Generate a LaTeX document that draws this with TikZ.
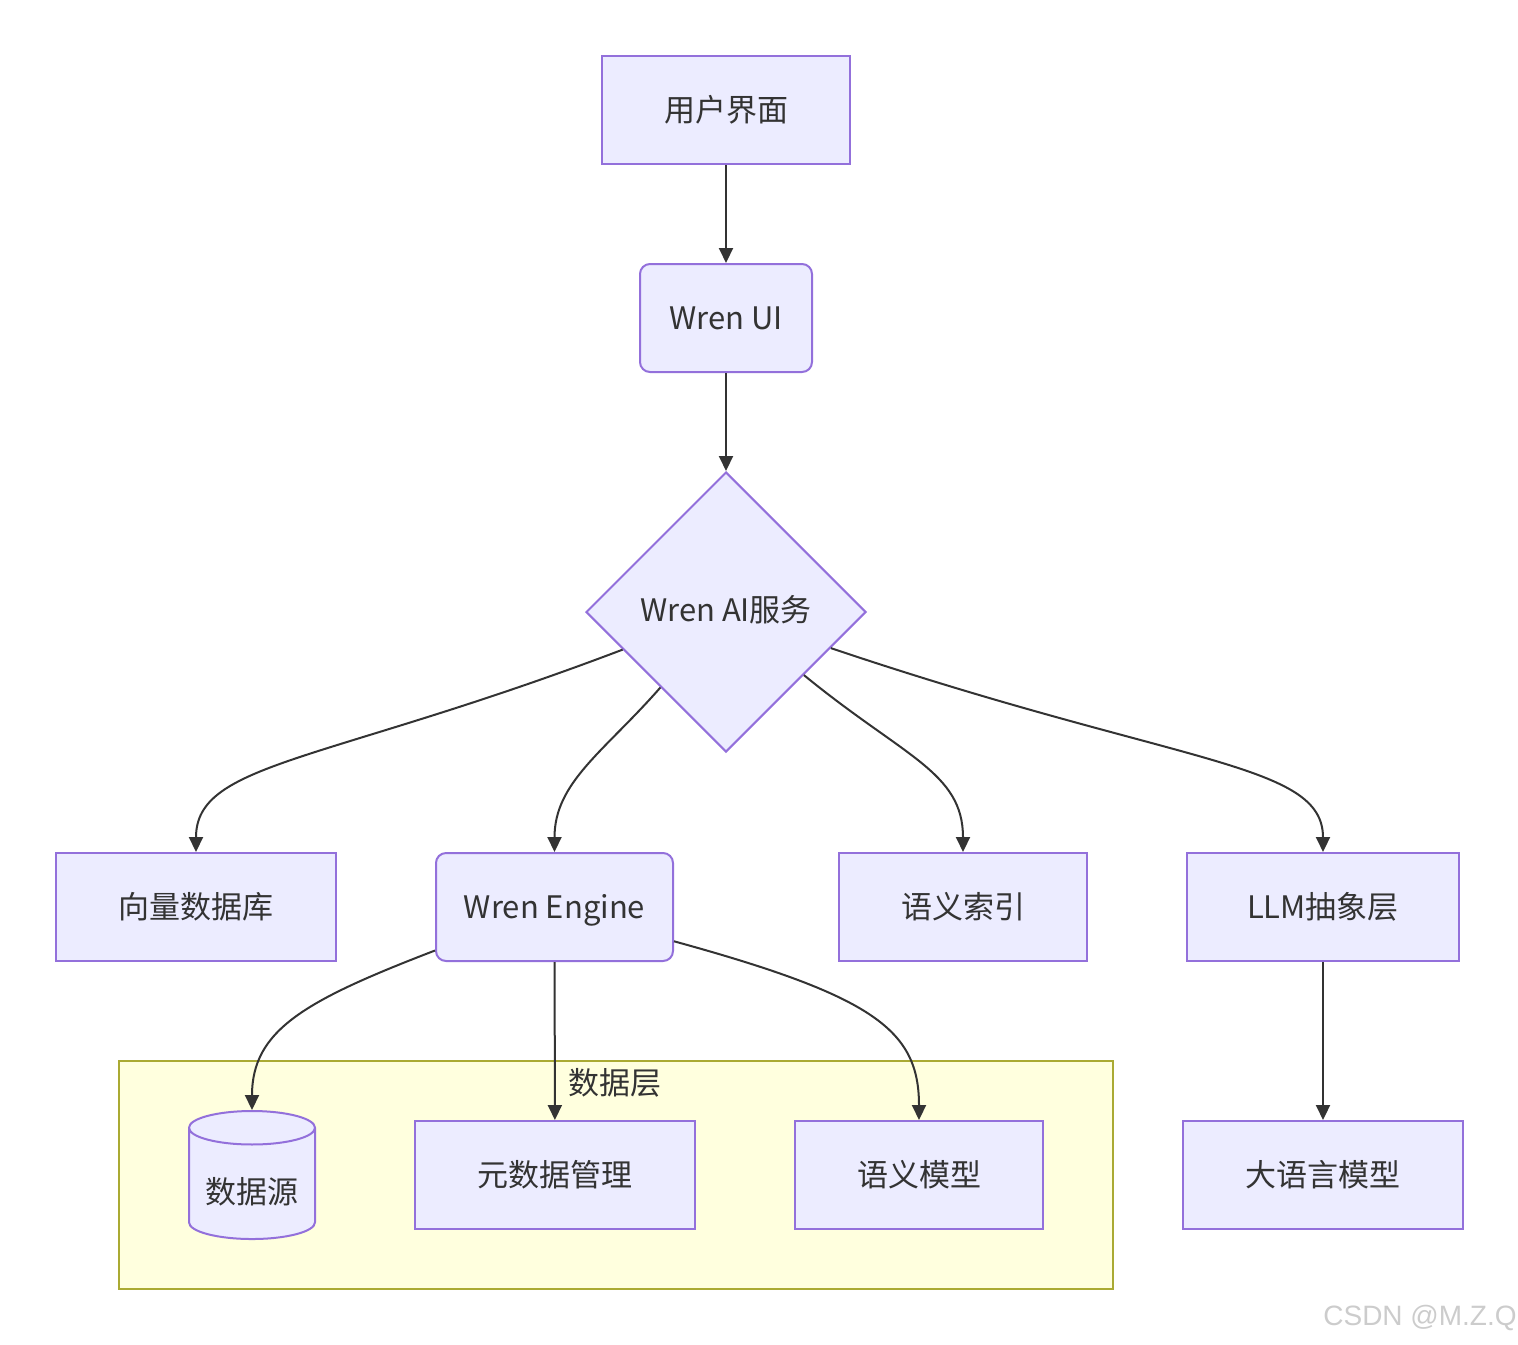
\documentclass[tikz,border=0pt]{standalone}
\usepackage{fontspec}
\setmainfont{Noto Sans CJK SC}
\newfontfamily\wmfont{Liberation Sans}
\usepackage{xcolor}
\usetikzlibrary{shapes.geometric, arrows.meta, positioning}

\definecolor{boxfill}{HTML}{ECECFF}
\definecolor{boxline}{HTML}{9370DB}
\definecolor{inkgray}{HTML}{333333}
\definecolor{layerfill}{HTML}{FFFFDE}
\definecolor{layerline}{HTML}{AAAA33}

\begin{document}
\begin{tikzpicture}[
  x=0.5pt, y=-0.5pt,
  every node/.style={font=\fontsize{15.5pt}{18pt}\selectfont, text=inkgray},
  txt/.style={text height=13.5pt, text depth=2pt},
  box/.style={rectangle, txt, draw=boxline, fill=boxfill, line width=1pt, minimum height=54pt, inner sep=0pt, align=center},
  rbox/.style={box, rounded corners=5pt},
  dec/.style={diamond, draw=boxline, fill=boxfill, line width=1pt, minimum width=140pt, minimum height=140pt, inner sep=0pt},
  store/.style={cylinder, shape border rotate=90, aspect=0.36, draw=boxline, fill=boxfill, line width=1pt, minimum width=63pt, minimum height=64pt, inner sep=0pt},
  layer/.style={rectangle, draw=layerline, fill=layerfill, line width=1pt},
  link/.style={-{Triangle[length=7.5pt, width=7pt]}, line width=1pt, draw=inkgray}
]
\useasboundingbox (0,0) rectangle (1518,1344);

% Data layer group
\node[layer, minimum width=497pt, minimum height=114pt] (datalayer) at (616,1175) {};
\node (dltitle) at (615,1083) {数据层};

% Main column
\node[box, minimum width=124pt]  (ui)   at (726,110) {用户界面};
\node[rbox, minimum width=86pt]  (wui)  at (726,318) {Wren UI};
\node[dec]                       (ai)   at (726,612) {};
\node[txt] (aitext) at (726,610) {Wren AI服务};

% Service layer
\node[box, minimum width=140pt]    (vdb)  at (196,907)  {向量数据库};
\node[rbox, minimum width=118.5pt] (eng)  at (554.5,907) {Wren Engine};
\node[box, minimum width=124pt]    (sidx) at (963,907)  {语义索引};
\node[box, minimum width=136pt]    (llm)  at (1323,907) {LLM抽象层};

% Bottom row
\node[store, anchor=shape center] (src) at (252,1175) {\phantom{数据源}};
\node (srctext) at (252,1192) {数据源};
\node[box, minimum width=140pt] (meta) at (555,1175)  {元数据管理};
\node[box, minimum width=124pt] (smod) at (919,1175)  {语义模型};
\node[box, minimum width=140pt] (bigm) at (1323,1175) {大语言模型};

% Straight links
\draw[link] (ui)   -- (wui);
\draw[link] (wui)  -- (ai.north);
\draw[link] (eng)  -- (meta);
\draw[link] (llm)  -- (bigm);

% Curved links from the AI service
\draw[link] (ai.200) .. controls +(-300,114) and +(0,-90) .. (vdb.north);
\draw[link] (ai.229) .. controls +(-56,64)   and +(0,-70) .. (eng.north);
\draw[link] (ai.321) .. controls +(100,82)   and +(0,-80) .. (sidx.north);
\draw[link] (ai.341) .. controls +(350,118)  and +(0,-90) .. (llm.north);

% Curved links from the engine
\draw[link] (eng.200) .. controls +(-130,50) and +(0,-80) .. (src.north);
\draw[link] (eng.344) .. controls +(200,55)  and +(0,-90) .. (smod.north);

% Watermark
\node[font=\wmfont\fontsize{14pt}{16pt}\selectfont, text=black!20] (mark) at (1420,1318) {CSDN @M.Z.Q};
\end{tikzpicture}
\end{document}
